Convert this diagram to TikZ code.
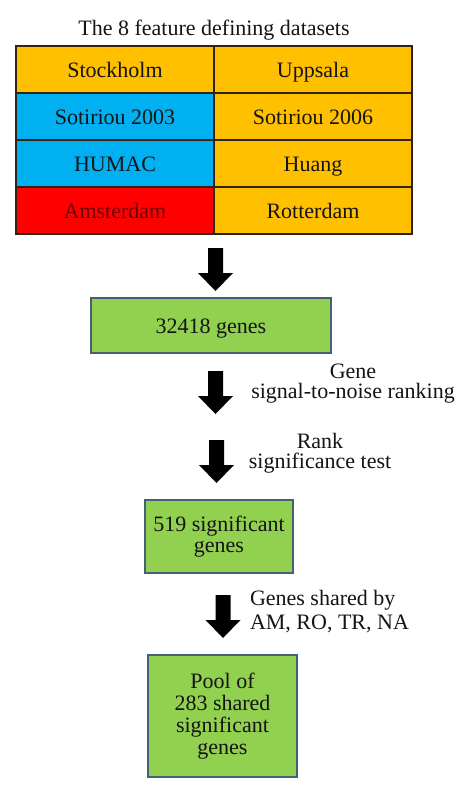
\documentclass[tikz,border=0pt]{standalone}
\usepackage{fontspec}
\setmainfont{Liberation Serif}
\definecolor{orng}{RGB}{255,192,0}
\definecolor{blu}{RGB}{0,176,240}
\definecolor{rd}{RGB}{255,0,0}
\definecolor{grn}{RGB}{146,208,80}
\definecolor{slate}{RGB}{70,95,115}
\definecolor{cellline}{RGB}{50,35,25}
\definecolor{amred}{RGB}{110,0,0}
\definecolor{txt}{RGB}{20,20,20}
\begin{document}
\begin{tikzpicture}[x=1pt,y=-1pt,
  every node/.style={font=\fontsize{22}{22}\selectfont, text=txt, inner sep=0pt, outer sep=0pt},
  cell/.style={draw=cellline, line width=1.4pt, minimum width=198pt, minimum height=47pt, text height=16pt, text depth=0pt},
  gbox/.style={draw=slate, line width=1.1pt, fill=grn, align=center},
  lbl/.style={anchor=base},
  blockarrow/.pic={\fill[black] (-7.5,0) -- (7.5,0) -- (7.5,25) -- (17.5,25) -- (0,43) -- (-17.5,25) -- (-7.5,25) -- cycle;}]
\useasboundingbox[fill=white] (0,0) rectangle (474,793);

\node[anchor=base] (title) at (214,35) {The 8 feature defining datasets};

\node[cell, fill=orng] (c11) at (115,69.5) {Stockholm};
\node[cell, fill=orng] (c12) at (313,69.5) {Uppsala};
\node[cell, fill=blu]  (c21) at (115,116.5) {Sotiriou 2003};
\node[cell, fill=orng] (c22) at (313,116.5) {Sotiriou 2006};
\node[cell, fill=blu]  (c31) at (115,163.5) {HUMAC};
\node[cell, fill=orng] (c32) at (313,163.5) {Huang};
\node[cell, fill=rd, text=amred] (c41) at (115,210.5) {Amsterdam};
\node[cell, fill=orng] (c42) at (313,210.5) {Rotterdam};

\pic at (215.5,248) {blockarrow};

\node[gbox, minimum width=240pt, minimum height=55pt, text height=15pt, text depth=0pt] (g1) at (211,325.5) {32418 genes};

\pic at (215.5,371) {blockarrow};
\node[lbl] (l1a) at (353,378) {Gene};
\node[lbl] (l1b) at (353,398) {signal-to-noise ranking};

\pic at (216.5,440) {blockarrow};
\node[lbl] (l2a) at (320,448) {Rank};
\node[lbl] (l2b) at (320,468) {significance test};

\node[gbox, minimum width=148pt, minimum height=73pt, font=\fontsize{22}{21}\selectfont] (g2) at (219,536.5) {519 significant\\genes};

\pic at (223,595) {blockarrow};
\node[lbl, anchor=base west] (l3a) at (250,605) {Genes shared by};
\node[lbl, anchor=base west] (l3b) at (250,629) {AM, RO, TR, NA};

\node[gbox, minimum width=149pt, minimum height=122pt, font=\fontsize{22}{22}\selectfont] (g3) at (222.5,716) {Pool of\\283 shared\\significant\\genes};
\end{tikzpicture}
\end{document}
